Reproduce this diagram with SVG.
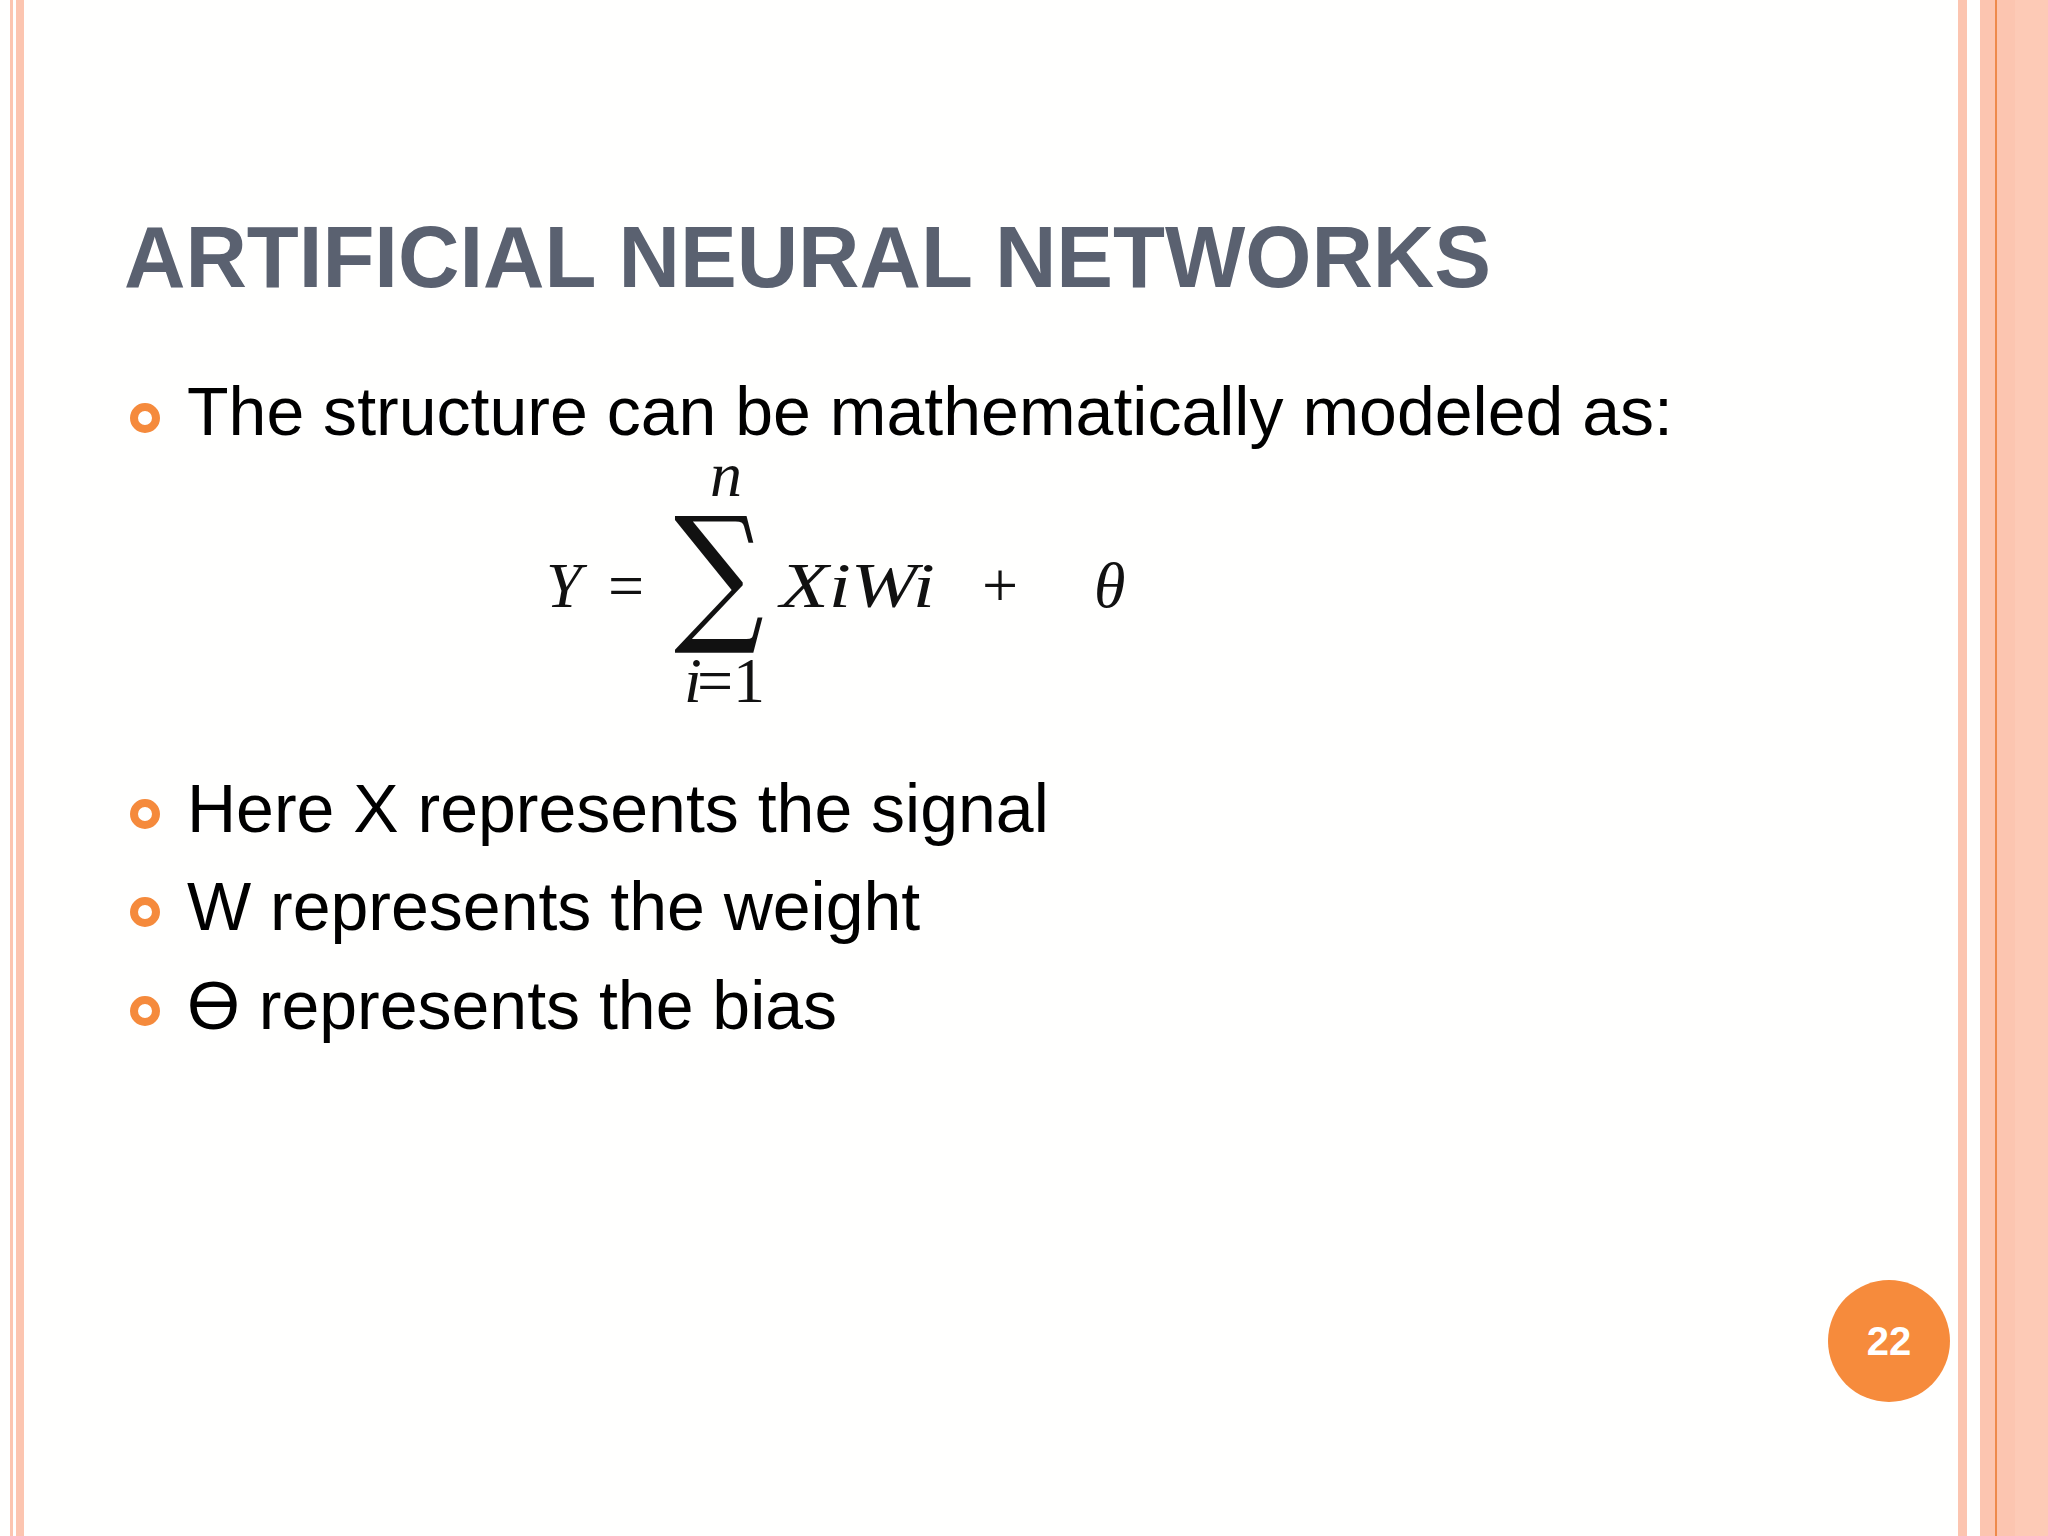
<svg xmlns="http://www.w3.org/2000/svg" width="2048" height="1536" viewBox="0 0 2048 1536">
<style>
.b{font-family:"Liberation Sans",Arial,sans-serif;font-size:68px;fill:#000}
.m{font-family:"Liberation Serif","DejaVu Serif",serif;font-style:italic;font-size:64px;fill:#111}
.u{font-family:"Liberation Serif","DejaVu Serif",serif;font-size:64px;fill:#111}
.dot{fill:none;stroke:#f58a3c;stroke-width:8}
</style>
<rect width="2048" height="1536" fill="#fffffe"/>
<g id="borders" fill="#fcc5b0">
<rect x="10" y="0" width="3" height="1536"/>
<rect x="16" y="0" width="8" height="1536"/>
<rect x="1958" y="0" width="9" height="1536"/>
<rect x="1980" y="0" width="68" height="1536"/>
<rect x="2015" y="0" width="33" height="1536" fill="#fdcab6"/>
<rect x="1995" y="0" width="2" height="1536" fill="#ee8a4c"/>
</g>
<g id="title"><text x="124" y="287" font-family="Liberation Sans,Arial,sans-serif" font-weight="bold" font-size="88" fill="#5a6170" textLength="1367" lengthAdjust="spacingAndGlyphs">ARTIFICIAL NEURAL NETWORKS</text></g>
<g id="bullets">
<circle class="dot" cx="145" cy="418" r="11"/>
<text class="b" x="187" y="435" textLength="1486" lengthAdjust="spacingAndGlyphs">The structure can be mathematically modeled as:</text>
<circle class="dot" cx="145" cy="814" r="11"/>
<text class="b" x="187" y="832">Here X represents the signal</text>
<circle class="dot" cx="145" cy="912" r="11"/>
<text class="b" x="187" y="930">W represents the weight</text>
<circle class="dot" cx="145" cy="1011" r="11"/>
<text class="b" x="187" y="1029">Ө represents the bias</text>
</g>
<g id="formula">
<text class="m" x="546" y="607">Y</text>
<text class="u" x="608" y="607">=</text>
<text x="674" y="624" font-family="DejaVu Serif,serif" font-size="150" fill="#111" textLength="90" lengthAdjust="spacingAndGlyphs">∑</text>
<text class="m" x="710" y="496" font-size="26">n</text>
<text class="m" x="684" y="702" font-size="34">i</text>
<text class="u" x="697" y="702" font-size="34">=1</text>
<text class="m" x="780" y="607" textLength="155" lengthAdjust="spacingAndGlyphs">XiWi</text>
<text class="u" x="982" y="607">+</text>
<text class="m" x="1094" y="607" font-size="70">θ</text>
</g>
<g id="page">
<circle cx="1889" cy="1341" r="61" fill="#f68b3c"/>
<text x="1889" y="1355" text-anchor="middle" font-family="Liberation Sans,Arial,sans-serif" font-weight="bold" font-size="40" fill="#fff">22</text>
</g>
</svg>
